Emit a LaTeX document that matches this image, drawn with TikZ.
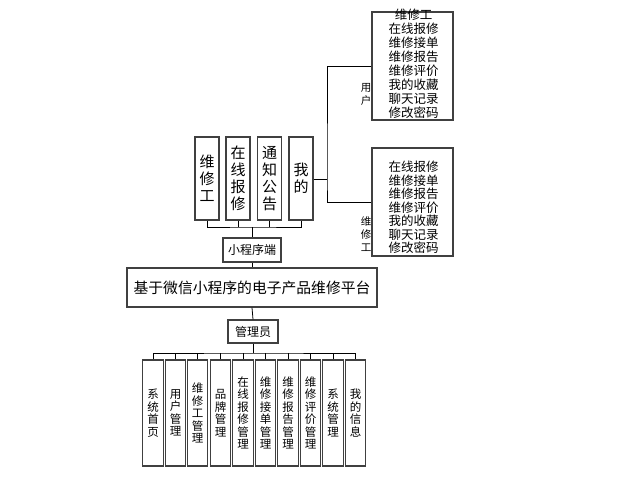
\documentclass[tikz,border=0pt]{standalone}
\usepackage{fontspec}
\newfontfamily\cjk{Noto Sans CJK SC}
\begin{document}
\begin{tikzpicture}[x=1pt,y=-1pt,
  every node/.style={font=\cjk},
  bx/.style={draw=black!75, line width=1.3pt, inner sep=0pt, align=center},
  topbox/.style={bx, minimum width=24pt, minimum height=83pt, font={\cjk\fontsize{15}{17}\selectfont}},
  botbox/.style={bx, minimum width=20.5pt, minimum height=106pt, font={\cjk\fontsize{11.5}{12.5}\selectfont}},
  lbl/.style={bx, font={\cjk\fontsize{12}{14}\selectfont}},
  conn/.style={line width=0.8pt, black},
  side/.style={inner sep=0pt, align=center, font={\cjk\fontsize{10.5}{13}\selectfont}},
  list/.style={inner sep=0pt, align=center}
]
\useasboundingbox (0,0) rectangle (636,476);

% top boxes
\node[topbox] (t1) at (207,178.5) {维\\修\\工};
\node[topbox] (t2) at (238,178.5) {在\\线\\报\\修};
\node[topbox] (t3) at (269.5,178.5) {通\\知\\公\\告};
\node[topbox] (t4) at (301,178.5) {我\\的};

\node[lbl, minimum width=58pt, minimum height=24pt] (mini) at (252,250) {小程序端};
\node[bx, minimum width=250pt, minimum height=39pt, font={\cjk\fontsize{14.8}{18}\selectfont}] (main) at (252,287.5) {基于微信小程序的电子产品维修平台};
\node[lbl, minimum width=50pt, minimum height=23pt] (adm) at (253,331.5) {管理员};

% right boxes
\node[bx, minimum width=81pt, minimum height=108pt] (r1) at (412.5,66) {};
\node[list, font={\cjk\fontsize{12.5}{14}\selectfont}] (r1t) at (413.5,64) {维修工\\在线报修\\维修接单\\维修报告\\维修评价\\我的收藏\\聊天记录\\修改密码};
\node[bx, minimum width=81pt, minimum height=108pt] (r2) at (412.5,202) {};
\node[list, font={\cjk\fontsize{12.5}{13.5}\selectfont}] (r2t) at (413.5,207.5) {在线报修\\维修接单\\维修报告\\维修评价\\我的收藏\\聊天记录\\修改密码};
\node[side] (u) at (366,94) {用\\户};
\node[side] (w) at (366,234) {维\\修\\工};

% bottom boxes
\foreach \i/\x/\t in {1/153/{系\\统\\首\\页},2/175.5/{用\\户\\管\\理},3/197.5/{维\\修\\工\\管\\理},4/220.5/{品\\牌\\管\\理},5/243/{在\\线\\报\\修\\管\\理},6/265.5/{维\\修\\接\\单\\管\\理},7/288/{维\\修\\报\\告\\管\\理},8/310.5/{维\\修\\评\\价\\管\\理},9/333/{系\\统\\管\\理},10/355.5/{我\\的\\信\\息}}
  \node[botbox] (b\i) at (\x,413) {\t};

% coordinates
\coordinate (tb) at (252,227);
\coordinate (bb) at (253,353);
\coordinate (vx) at (327,179);

% top bus
\draw[conn] (t1.south) |- (tb) -| (t4.south);
\draw[conn] (t2.south) -- (t2.south |- tb);
\draw[conn] (t3.south) -- (t3.south |- tb);
\draw[conn] (tb) -- (mini.north);
\draw[conn] (mini.south) -- (mini.south |- main.north);
\draw[conn] (main.south) -- (adm.north);

% bracket to right
\draw[conn] (t4.east |- vx) -- (vx);
\draw[conn] (r1.west |- 0,66) -| (vx) |- (r2.west |- 0,202);

% bottom bus
\draw[conn] (adm.south) -- (bb);
\draw[conn] (b1.north) |- (bb) -| (b10.north);
\foreach \i in {2,...,9}
  \draw[conn] (b\i.north) -- (b\i.north |- bb);
\end{tikzpicture}
\end{document}
